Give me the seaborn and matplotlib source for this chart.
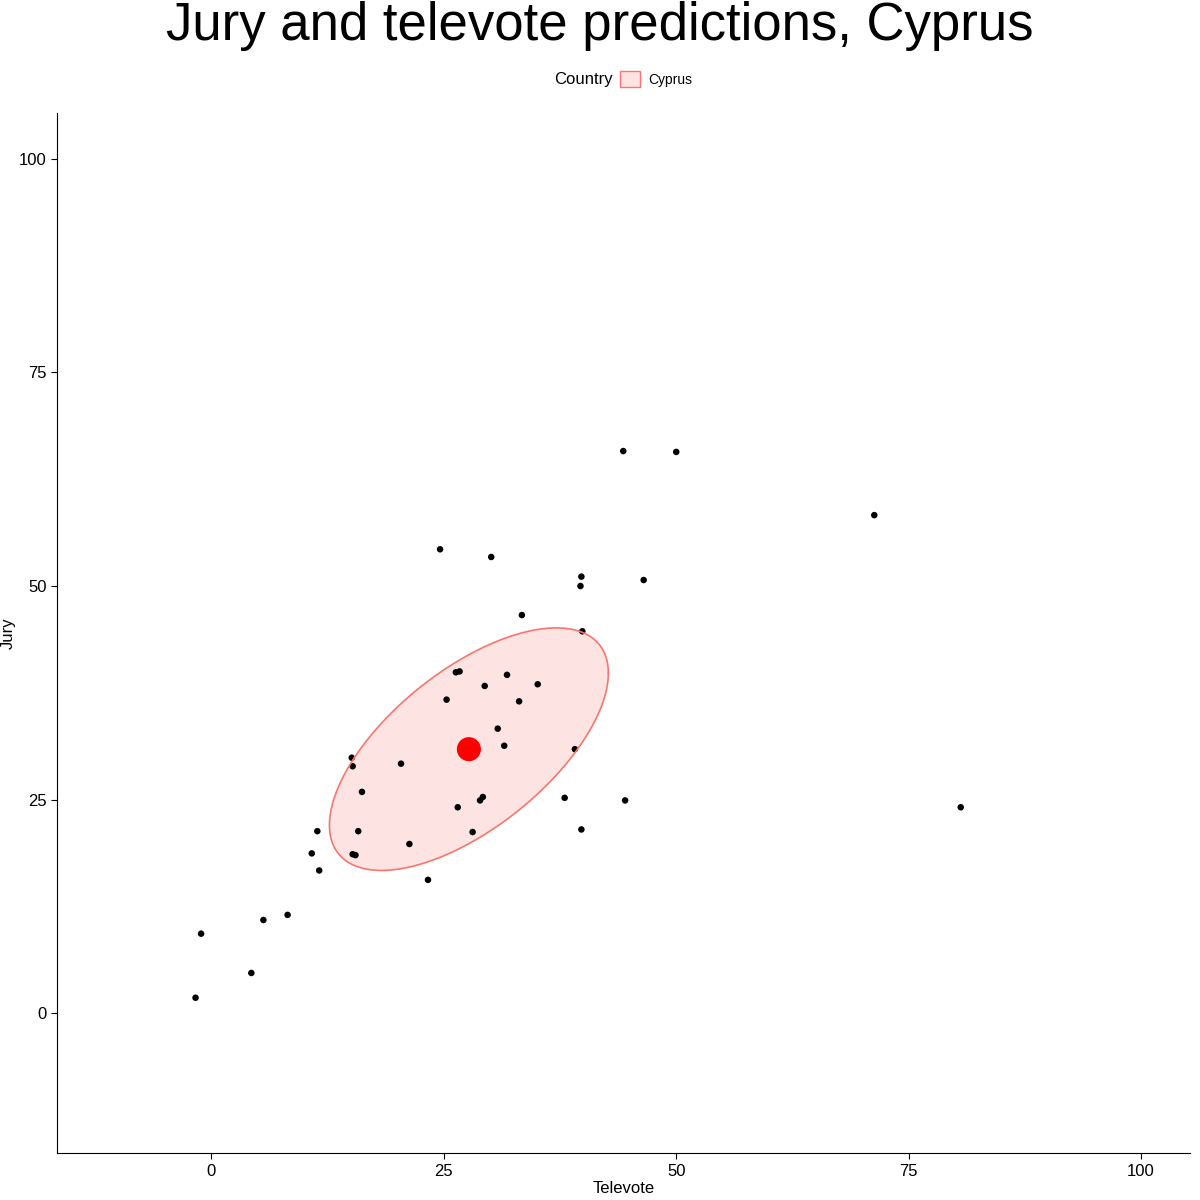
import numpy as np
import pandas as pd
import matplotlib
matplotlib.use("Agg")
import matplotlib.pyplot as plt
import seaborn as sns
from matplotlib.patches import Patch

televote = [-1.7,-1.1,4.3,5.6,8.2,10.8,11.4,11.6,15.1,15.2,15.2,15.5,15.8,16.2,20.4,21.3,23.3,24.6,25.3,26.3,26.7,26.5,28.1,28.9,29.2,29.4,30.1,30.8,31.5,31.8,33.1,33.4,35.1,38.0,39.1,39.7,39.8,39.8,39.9,44.3,44.5,46.5,50.0,71.3,80.6]
jury = [1.8,9.3,4.7,10.9,11.5,18.7,21.3,16.7,29.9,28.9,18.6,18.5,21.3,25.9,29.2,19.8,15.6,54.3,36.7,39.9,40.0,24.1,21.2,24.9,25.3,38.3,53.4,33.3,31.3,39.6,36.5,46.6,38.5,25.2,30.9,50.0,51.1,21.5,44.7,65.8,24.9,50.7,65.7,58.3,24.1]
cyprus_televote = [27.7]
cyprus_jury = [30.9]
ellipse_cov = [[225.0, 133.5], [133.5, 201.6]]

df = pd.DataFrame({"Televote": televote, "Jury": jury})
sns.set_style("white")
plt.rcParams['font.family'] = ['Liberation Sans', 'DejaVu Sans']
plt.rcParams['text.color'] = 'black'
plt.rcParams['axes.labelcolor'] = 'black'

fig = plt.figure(figsize=(12, 12), dpi=100)
ax = fig.add_axes([0.0475, 0.039, 0.9445, 0.867])

L = np.linalg.cholesky(np.array(ellipse_cov))
t = np.linspace(0, 2*np.pi, 300)
pts = (L @ np.vstack([np.cos(t), np.sin(t)])).T + [cyprus_televote[0], cyprus_jury[0]]
ax.fill(pts[:, 0], pts[:, 1], facecolor="#F8766D", alpha=0.2, edgecolor="none")
ax.plot(pts[:, 0], pts[:, 1], color="#F8766D", lw=1.2)

sns.scatterplot(data=df, x="Televote", y="Jury", color="black", s=22, edgecolor="none", ax=ax)
ax.scatter(cyprus_televote, cyprus_jury, color="red", s=300, edgecolor="none", zorder=5)

ax.set_xlim(-16.6, 105.3)
ax.set_ylim(-16.4, 105.4)
ax.set_xticks([0, 25, 50, 75, 100])
ax.set_yticks([0, 25, 50, 75, 100])
ax.tick_params(axis="both", labelsize=12, length=4, direction="out", bottom=True, left=True, colors="black")
for s in ["top", "right"]:
    ax.spines[s].set_visible(False)
for s in ["left", "bottom"]:
    ax.spines[s].set_color("black")
ax.set_xlabel("Televote", fontsize=12)
ax.set_ylabel("Jury", fontsize=12)
ax.yaxis.set_label_coords(-0.036, 0.5)
ax.xaxis.set_label_coords(0.5, -0.027)

fig.text(0.5, 0.978, "Jury and televote predictions, Cyprus", ha="center", va="center", fontsize=38, color="black")
fig.text(0.511, 0.934, "Country", ha="right", va="center", fontsize=12)
fig.legend(handles=[Patch(facecolor=(0.973, 0.463, 0.427, 0.2), edgecolor="#F8766D", label="Cyprus")],
           loc="center left", bbox_to_anchor=(0.517, 0.934), frameon=False, fontsize=10,
           handlelength=1.4, handleheight=1.4, handletextpad=0.6, borderaxespad=0, borderpad=0)
fig.savefig("out.png", dpi=100)
